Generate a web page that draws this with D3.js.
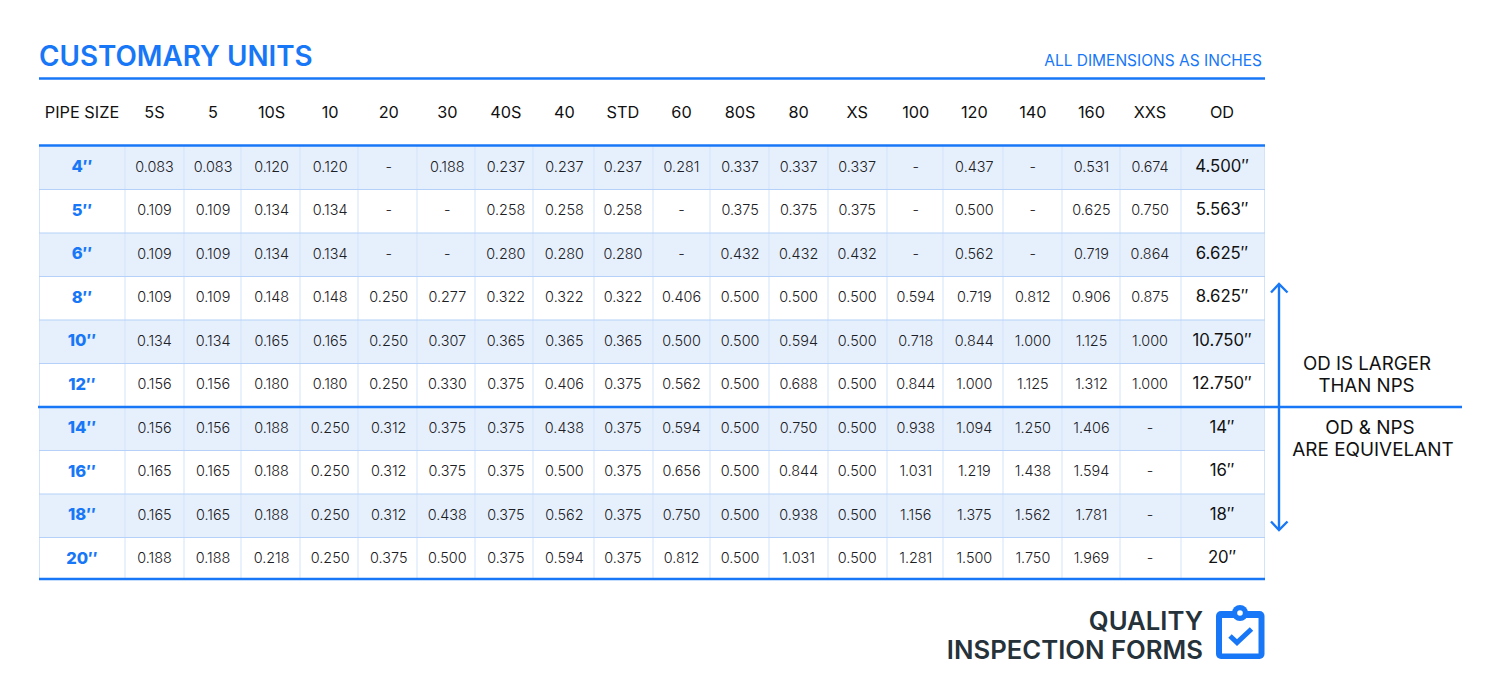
<!DOCTYPE html>
<html>
<head>
<meta charset="utf-8">
<script src="https://cdnjs.cloudflare.com/ajax/libs/d3/7.8.5/d3.min.js"></script>
<style>
  html, body { margin: 0; background: #fff; }
  svg { display: block; }
  text { font-family: "Inter", "Roboto", sans-serif; }
</style>
</head>
<body>
<div id="chart"></div>
<script>
const schedules = ["5S", "5", "10S", "10", "20", "30", "40S", "40", "STD", "60", "80S", "80", "XS", "100", "120", "140", "160", "XXS"];
const pipeSizes = ["4″", "5″", "6″", "8″", "10″", "12″", "14″", "16″", "18″", "20″"];
const outerDiameters = ["4.500″", "5.563″", "6.625″", "8.625″", "10.750″", "12.750″", "14″", "16″", "18″", "20″"];

// wall thickness per pipe size, kept as strings so the trailing zeros stay
const wall4 = ["0.083", "0.083", "0.120", "0.120", "-", "0.188", "0.237", "0.237", "0.237", "0.281", "0.337", "0.337", "0.337", "-", "0.437", "-", "0.531", "0.674"];
const wall5 = ["0.109", "0.109", "0.134", "0.134", "-", "-", "0.258", "0.258", "0.258", "-", "0.375", "0.375", "0.375", "-", "0.500", "-", "0.625", "0.750"];
const wall6 = ["0.109", "0.109", "0.134", "0.134", "-", "-", "0.280", "0.280", "0.280", "-", "0.432", "0.432", "0.432", "-", "0.562", "-", "0.719", "0.864"];
const wall8 = ["0.109", "0.109", "0.148", "0.148", "0.250", "0.277", "0.322", "0.322", "0.322", "0.406", "0.500", "0.500", "0.500", "0.594", "0.719", "0.812", "0.906", "0.875"];
const wall10 = ["0.134", "0.134", "0.165", "0.165", "0.250", "0.307", "0.365", "0.365", "0.365", "0.500", "0.500", "0.594", "0.500", "0.718", "0.844", "1.000", "1.125", "1.000"];
const wall12 = ["0.156", "0.156", "0.180", "0.180", "0.250", "0.330", "0.375", "0.406", "0.375", "0.562", "0.500", "0.688", "0.500", "0.844", "1.000", "1.125", "1.312", "1.000"];
const wall14 = ["0.156", "0.156", "0.188", "0.250", "0.312", "0.375", "0.375", "0.438", "0.375", "0.594", "0.500", "0.750", "0.500", "0.938", "1.094", "1.250", "1.406", "-"];
const wall16 = ["0.165", "0.165", "0.188", "0.250", "0.312", "0.375", "0.375", "0.500", "0.375", "0.656", "0.500", "0.844", "0.500", "1.031", "1.219", "1.438", "1.594", "-"];
const wall18 = ["0.165", "0.165", "0.188", "0.250", "0.312", "0.438", "0.375", "0.562", "0.375", "0.750", "0.500", "0.938", "0.500", "1.156", "1.375", "1.562", "1.781", "-"];
const wall20 = ["0.188", "0.188", "0.218", "0.250", "0.375", "0.500", "0.375", "0.594", "0.375", "0.812", "0.500", "1.031", "0.500", "1.281", "1.500", "1.750", "1.969", "-"];
const wallRows = [wall4, wall5, wall6, wall8, wall10, wall12, wall14, wall16, wall18, wall20];

const blue = "#1877f7";
const ink = "#2a2e33";

const tableLeft = 39, tableRight = 1265, tableTop = 146, tableBottom = 579;

const svg = d3.select("#chart").append("svg").attr("width", 1500).attr("height", 684);

// Scales for the table body (last row is cut a little short by the bottom rule)
const x = d3.scalePoint().domain(schedules).range([154.5, 1150]);
const y = d3.scaleBand().domain(pipeSizes).range([tableTop, tableTop + 435]);
const pipeX = 82, odX = 1222;

// Striped rows
svg.append("g").selectAll("rect")
  .data(pipeSizes.filter((d, i) => i % 2 === 0))
  .enter().append("rect")
  .attr("x", tableLeft).attr("width", tableRight - tableLeft)
  .attr("y", d => y(d)).attr("height", y.bandwidth())
  .attr("fill", "#e6f0fd");

// Column lines, the cells are not quite even in the original
const colLines = [39.5, 125, 184, 241, 300, 358, 417, 475, 533, 594, 653, 710, 769, 828, 887, 943, 1003, 1062, 1120, 1181, 1264.5];
svg.append("g").selectAll("line")
  .data(colLines)
  .enter().append("line")
  .attr("x1", d => d).attr("x2", d => d)
  .attr("y1", tableTop).attr("y2", tableBottom)
  .attr("stroke", "#d3e3fb").attr("stroke-width", 1);

// Row lines
svg.append("g").selectAll("line")
  .data(pipeSizes.slice(1))
  .enter().append("line")
  .attr("x1", tableLeft).attr("x2", tableRight)
  .attr("y1", d => y(d)).attr("y2", d => y(d))
  .attr("stroke", "#b5d1fa").attr("stroke-width", 1.2);

// Heavy blue rules
[78.5, tableTop - 0.5, tableBottom].forEach(ry => {
  svg.append("line")
    .attr("x1", tableLeft).attr("x2", tableRight).attr("y1", ry).attr("y2", ry)
    .attr("stroke", blue).attr("stroke-width", 2.5);
});
svg.append("line")
  .attr("x1", tableLeft - 1).attr("x2", 1462).attr("y1", y("14″")).attr("y2", y("14″"))
  .attr("stroke", blue).attr("stroke-width", 2.5);

// Title
svg.append("text").attr("x", 39).attr("y", 66)
  .attr("font-size", 27.8).attr("font-weight", 600).attr("fill", blue)
  .text("CUSTOMARY UNITS");
svg.append("text").attr("x", 1262).attr("y", 66).attr("text-anchor", "end")
  .attr("font-size", 15.5).attr("fill", blue)
  .text("ALL DIMENSIONS AS INCHES");

// Header row
const headerY = 117.5;
const header = svg.append("g").attr("font-size", 16.3).attr("fill", "#111").attr("text-anchor", "middle");
header.append("text").attr("x", pipeX).attr("y", headerY).text("PIPE SIZE");
header.append("text").attr("x", odX).attr("y", headerY).text("OD");
header.selectAll("text.sch")
  .data(schedules)
  .enter().append("text")
  .attr("class", "sch")
  .attr("x", d => x(d)).attr("y", headerY)
  .text(d => d);

// Body cells
const rowMid = d => y(d) + y.bandwidth() / 2 - 1.2;

svg.append("g").attr("text-anchor", "middle").attr("font-size", 16.5).attr("font-weight", 800).attr("fill", blue)
  .selectAll("text")
  .data(pipeSizes)
  .enter().append("text")
  .attr("x", pipeX).attr("y", rowMid).attr("dy", "0.35em")
  .text(d => d);

svg.append("g").attr("text-anchor", "middle").attr("font-size", 14.4).attr("font-weight", 300).attr("fill", "#1c2024")
  .selectAll("g")
  .data(wallRows)
  .enter().append("g")
  .each(function (row, i) {
    d3.select(this).selectAll("text")
      .data(row)
      .enter().append("text")
      .attr("x", (d, j) => x(schedules[j]))
      .attr("y", rowMid(pipeSizes[i]))
      .attr("dy", "0.35em")
      .text(d => d);
  });

svg.append("g").attr("text-anchor", "middle").attr("font-size", 16.8).attr("fill", "#111")
  .selectAll("text")
  .data(outerDiameters)
  .enter().append("text")
  .attr("x", odX)
  .attr("y", (d, i) => rowMid(pipeSizes[i]) - 0.8)
  .attr("dy", "0.35em")
  .text(d => d);

// Arrow on the right
const arrow = svg.append("g").attr("fill", "none").attr("stroke", blue).attr("stroke-width", 2.4);
arrow.append("line").attr("x1", 1279).attr("x2", 1279).attr("y1", 284).attr("y2", 530);
arrow.append("path").attr("d", "M1271,292.5 L1279,284 L1287.5,292.5");
arrow.append("path").attr("d", "M1271,521.5 L1279,530 L1287.5,521.5");

const note = svg.append("g").attr("fill", "#111").attr("text-anchor", "middle");
note.append("text").attr("x", 1367).attr("y", 370).attr("font-size", 18.7).text("OD IS LARGER");
note.append("text").attr("x", 1366.5).attr("y", 392).attr("font-size", 18.7).text("THAN NPS");
note.append("text").attr("x", 1370).attr("y", 434).attr("font-size", 18.9).text("OD & NPS");
note.append("text").attr("x", 1373).attr("y", 456).attr("font-size", 18.9).text("ARE EQUIVELANT");

// Logo
const logo = svg.append("g").attr("font-size", 25.7).attr("font-weight", 600).attr("fill", "#25323a").attr("text-anchor", "end");
logo.append("text").attr("x", 1203).attr("y", 630).text("QUALITY");
logo.append("text").attr("x", 1203).attr("y", 659).text("INSPECTION FORMS");

const icon = svg.append("g");
icon.append("rect").attr("x", 1216).attr("y", 611).attr("width", 48.5).attr("height", 48).attr("rx", 5).attr("fill", blue);
icon.append("rect").attr("x", 1222).attr("y", 618).attr("width", 36.5).attr("height", 35.5).attr("fill", "#fff");
icon.append("circle").attr("cx", 1240).attr("cy", 613).attr("r", 8).attr("fill", blue);
icon.append("circle").attr("cx", 1240).attr("cy", 613).attr("r", 2.8).attr("fill", "#fff");
icon.append("path").attr("d", "M1230,636 L1237,642.5 L1251.5,629")
  .attr("fill", "none").attr("stroke", blue).attr("stroke-width", 5);
</script>
</body>
</html>
